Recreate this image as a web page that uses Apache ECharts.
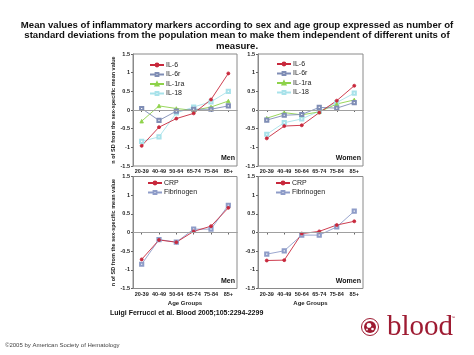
<!DOCTYPE html>
<html>
<head>
<meta charset="utf-8">
<script src="https://cdn.jsdelivr.net/npm/echarts@6/dist/echarts.min.js"></script>
<style>
html,body{margin:0;padding:0;background:#fff;}
#chart{width:474px;height:355px;}
</style>
</head>
<body>
<div id="chart"></div>
<script>
// ---- data ----
var ageGroups = ['20-39', '40-49', '50-64', '65-74', '75-84', '85+'];
var yTicks = [-1.5, -1, -0.5, 0, 0.5, 1, 1.5];

var menIL6    = [-0.96, -0.46, -0.23, -0.09, 0.28, 0.98];
var menIL6r   = [0.04, -0.28, -0.03, 0.02, 0.02, 0.11];
var menIL1ra  = [-0.30, 0.11, 0.04, -0.01, 0.08, 0.24];
var menIL18   = [-0.84, -0.72, -0.08, 0.08, 0.22, 0.50];

var womenIL6   = [-0.76, -0.43, -0.41, -0.07, 0.25, 0.65];
var womenIL6r  = [-0.27, -0.14, -0.12, 0.07, 0.05, 0.20];
var womenIL1ra = [-0.22, -0.07, -0.13, -0.05, 0.16, 0.27];
var womenIL18  = [-0.65, -0.34, -0.24, -0.03, 0.20, 0.45];

var menCRP   = [-0.72, -0.20, -0.26, 0.03, 0.17, 0.66];
var menFib   = [-0.85, -0.19, -0.26, 0.09, 0.09, 0.73];
var womenCRP = [-0.75, -0.74, -0.03, 0.03, 0.20, 0.30];
var womenFib = [-0.58, -0.49, -0.07, -0.07, 0.15, 0.57];

var ilNames = ['IL-6', 'IL-6r', 'IL-1ra', 'IL-18'];
var inflNames = ['CRP', 'Fibrinogen'];
var sexLabels = ['Men', 'Women'];
var titleText = 'Mean values of inflammatory markers according to sex and age group expressed as number of\nstandard deviations from the population mean to make them independent of different units of\nmeasure.';

// ---- styles ----
var FONT = 'Liberation Sans, Arial, sans-serif';
var styles = {
  'IL-6':      {color: '#c8283c', symbol: 'circle', size: 3},
  'IL-6r':     {color: '#7f8db5', symbol: 'emptyRect', size: 3.2},
  'IL-1ra':    {color: '#8ed24a', symbol: 'triangle', size: 3.6},
  'IL-18':     {color: '#a8e2ea', symbol: 'emptyRect', size: 3.2},
  'CRP':       {color: '#c8283c', symbol: 'circle', size: 3},
  'Fibrinogen':{color: '#8e9cc8', symbol: 'emptyRect', size: 3.2}
};

var grids = [
  {left: 133, top: 54, width: 104, height: 112},
  {left: 258, top: 54, width: 105, height: 112},
  {left: 133, top: 176.5, width: 104, height: 112},
  {left: 258, top: 176.5, width: 105, height: 112}
];

var xAxes = [], yAxes = [];
grids.forEach(function (g, i) {
  g.show = true;
  g.borderColor = '#8a8a8a';
  g.borderWidth = 1;
  g.containLabel = false;
  xAxes.push({
    type: 'category', gridIndex: i, data: ageGroups, boundaryGap: true,
    axisLine: {show: true, lineStyle: {color: '#8a8a8a', width: 1}},
    axisTick: {show: true, length: 2, alignWithLabel: true, lineStyle: {color: '#666'}},
    axisLabel: {interval: 0, fontSize: 5.5, fontWeight: 'bold', color: '#222', fontFamily: FONT, margin: 2.5},
    splitLine: {show: false},
    name: i >= 2 ? 'Age Groups' : '', nameLocation: 'middle', nameGap: 12,
    nameTextStyle: {fontSize: 6, fontWeight: 'bold', color: '#222', fontFamily: FONT}
  });
  yAxes.push({
    type: 'value', gridIndex: i, min: yTicks[0], max: yTicks[yTicks.length - 1], interval: 0.5,
    axisLine: {show: true, lineStyle: {color: '#8a8a8a', width: 1}},
    axisTick: {show: true, length: 2, lineStyle: {color: '#666'}},
    axisLabel: {fontSize: 5.5, fontWeight: 'bold', color: '#222', fontFamily: FONT, margin: 3,
      formatter: function (v) { return String(v); }},
    splitLine: {show: false},
    name: (i % 2 === 0) ? 'n of SD from the sex-specific mean value' : '',
    nameLocation: 'middle', nameGap: 16, nameRotate: 90,
    nameTextStyle: {fontSize: 5.5, fontWeight: 'bold', color: '#222', fontFamily: FONT}
  });
});

var series = [];
function addSeries(name, data, gi, withZero) {
  var s = styles[name];
  var obj = {
    name: name, type: 'line', xAxisIndex: gi, yAxisIndex: gi, data: data,
    symbol: s.symbol, symbolSize: s.size, showSymbol: true,
    lineStyle: {color: s.color, width: 0.9},
    itemStyle: {color: s.color, borderColor: s.color, borderWidth: 0.8},
    emphasis: {disabled: true}, animation: false
  };
  if (withZero) {
    obj.markLine = {
      silent: true, symbol: 'none', label: {show: false},
      lineStyle: {color: '#a0a0a0', type: 'solid', width: 1},
      data: [{yAxis: 0}], animation: false
    };
  }
  series.push(obj);
}
addSeries('IL-18', menIL18, 0, true);
addSeries('IL-1ra', menIL1ra, 0, false);
addSeries('IL-6r', menIL6r, 0, false);
addSeries('IL-6', menIL6, 0, false);
addSeries('IL-18', womenIL18, 1, true);
addSeries('IL-1ra', womenIL1ra, 1, false);
addSeries('IL-6r', womenIL6r, 1, false);
addSeries('IL-6', womenIL6, 1, false);
addSeries('Fibrinogen', menFib, 2, true);
addSeries('CRP', menCRP, 2, false);
addSeries('Fibrinogen', womenFib, 3, true);
addSeries('CRP', womenCRP, 3, false);

function legendAt(names, left, top) {
  return {
    data: names, orient: 'vertical', left: left, top: top,
    itemWidth: 14, itemHeight: 3.5, itemGap: 1.5,
    selectedMode: false, padding: 0,
    textStyle: {fontSize: 7, color: '#222', fontFamily: FONT, padding: [0, 0, 0, -3], lineHeight: 8}
  };
}

var option = {
  backgroundColor: '#ffffff',
  animation: false,
  grid: grids,
  xAxis: xAxes,
  yAxis: yAxes,
  legend: [
    legendAt(ilNames, 149, 61),
    legendAt(ilNames, 276, 60),
    legendAt(inflNames, 147, 179),
    legendAt(inflNames, 275, 179)
  ],
  series: series,
  graphic: [
    {type: 'text', x: 237, y: 19.5, style: {text: titleText, font: 'bold 9.6px ' + FONT, fill: '#111', textAlign: 'center', lineHeight: 10.8}},
    {type: 'text', right: 474 - 235, top: 155, style: {text: sexLabels[0], font: 'bold 7px ' + FONT, fill: '#111'}},
    {type: 'text', right: 474 - 361, top: 155, style: {text: sexLabels[1], font: 'bold 7px ' + FONT, fill: '#111'}},
    {type: 'text', right: 474 - 235, top: 278, style: {text: sexLabels[0], font: 'bold 7px ' + FONT, fill: '#111'}},
    {type: 'text', right: 474 - 361, top: 278, style: {text: sexLabels[1], font: 'bold 7px ' + FONT, fill: '#111'}},
    {type: 'text', left: 110, top: 310, style: {text: 'Luigi Ferrucci et al. Blood 2005;105:2294-2299', font: 'bold 7px ' + FONT, fill: '#111'}},
    {type: 'text', left: 5, top: 342, style: {text: '\u00a92005 by American Society of Hematology', font: '6px ' + FONT, fill: '#444'}},
    {type: 'text', left: 387, top: 313, style: {text: 'blood', font: '29px Liberation Serif, DejaVu Serif, serif', fill: '#9e1b32'}},
    {type: 'text', left: 451, top: 316, style: {text: '\u2122', font: '4px ' + FONT, fill: '#9e1b32'}},
    {type: 'circle', shape: {cx: 370, cy: 327, r: 8.5}, style: {fill: '#fff', stroke: '#9e1b32', lineWidth: 1}},
    {type: 'circle', shape: {cx: 370, cy: 327, r: 6}, style: {fill: '#9e1b32'}},
    {type: 'circle', shape: {cx: 369, cy: 325.5, r: 2.4}, style: {fill: '#fff'}},
    {type: 'circle', shape: {cx: 372.5, cy: 329, r: 1.3}, style: {fill: '#fff'}},
    {type: 'circle', shape: {cx: 367, cy: 329.5, r: 0.9}, style: {fill: '#fff'}}
  ]
};

var chart = echarts.init(document.getElementById('chart'), null, {renderer: 'canvas'});
chart.setOption(option);
</script>
</body>
</html>
